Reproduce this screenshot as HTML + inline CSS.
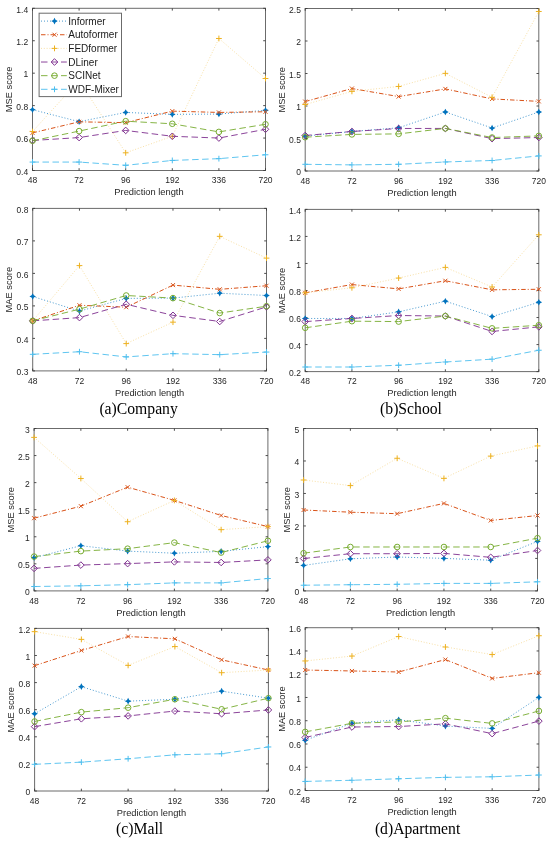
<!DOCTYPE html>
<html><head><meta charset="utf-8"><style>
html,body{margin:0;padding:0;background:#fff;}
svg{display:block;filter:blur(0.35px);}
.t{font-family:"Liberation Sans",sans-serif;font-size:8.5px;fill:#262626;}
.l{font-family:"Liberation Sans",sans-serif;font-size:9.3px;fill:#262626;}
.g{font-family:"Liberation Sans",sans-serif;font-size:10px;fill:#1a1a1a;}
.c{font-family:"Liberation Serif",serif;font-size:15.7px;fill:#000;}
</style></head><body>
<svg width="550" height="842" viewBox="0 0 550 842">
<rect width="550" height="842" fill="#fff"/>
<rect x="32.50" y="8.30" width="233.00" height="162.20" fill="none" stroke="#6b6b6b" stroke-width="1"/>
<path d="M32.50 170.50v-2.3M32.50 8.30v2.3M79.10 170.50v-2.3M79.10 8.30v2.3M125.70 170.50v-2.3M125.70 8.30v2.3M172.30 170.50v-2.3M172.30 8.30v2.3M218.90 170.50v-2.3M218.90 8.30v2.3M265.50 170.50v-2.3M265.50 8.30v2.3M32.50 170.50h2.3M265.50 170.50h-2.3M32.50 138.06h2.3M265.50 138.06h-2.3M32.50 105.62h2.3M265.50 105.62h-2.3M32.50 73.18h2.3M265.50 73.18h-2.3M32.50 40.74h2.3M265.50 40.74h-2.3M32.50 8.30h2.3M265.50 8.30h-2.3" stroke="#3a3a3a" stroke-width="0.9"/>
<polyline points="32.50,109.67 79.10,121.68 125.70,112.43 172.30,114.38 218.90,114.05 265.50,110.32" fill="none" stroke="#0072BD" stroke-width="0.9" stroke-opacity="0.8" stroke-dasharray="1 2"/>
<path fill="#0072BD" d="M29.20 109.67L31.35 108.52L32.50 106.38L33.65 108.52L35.80 109.67L33.65 110.83L32.50 112.97L31.35 110.83Z"/>
<path fill="#0072BD" d="M75.80 121.68L77.95 120.53L79.10 118.38L80.25 120.53L82.40 121.68L80.25 122.83L79.10 124.98L77.95 122.83Z"/>
<path fill="#0072BD" d="M122.40 112.43L124.55 111.28L125.70 109.13L126.85 111.28L129.00 112.43L126.85 113.58L125.70 115.73L124.55 113.58Z"/>
<path fill="#0072BD" d="M169.00 114.38L171.15 113.23L172.30 111.08L173.45 113.23L175.60 114.38L173.45 115.53L172.30 117.68L171.15 115.53Z"/>
<path fill="#0072BD" d="M215.60 114.05L217.75 112.90L218.90 110.75L220.05 112.90L222.20 114.05L220.05 115.20L218.90 117.35L217.75 115.20Z"/>
<path fill="#0072BD" d="M262.20 110.32L264.35 109.17L265.50 107.02L266.65 109.17L268.80 110.32L266.65 111.47L265.50 113.62L264.35 111.47Z"/>
<polyline points="32.50,132.87 79.10,121.84 125.70,122.65 172.30,111.13 218.90,112.43 265.50,111.78" fill="none" stroke="#D95319" stroke-width="1.0" stroke-opacity="1" stroke-dasharray="4.5 2 1 2"/>
<path stroke="#D95319" stroke-width="1" d="M30.50 130.87L34.50 134.87M30.50 134.87L34.50 130.87"/>
<path stroke="#D95319" stroke-width="1" d="M77.10 119.84L81.10 123.84M77.10 123.84L81.10 119.84"/>
<path stroke="#D95319" stroke-width="1" d="M123.70 120.65L127.70 124.65M123.70 124.65L127.70 120.65"/>
<path stroke="#D95319" stroke-width="1" d="M170.30 109.13L174.30 113.13M170.30 113.13L174.30 109.13"/>
<path stroke="#D95319" stroke-width="1" d="M216.90 110.43L220.90 114.43M216.90 114.43L220.90 110.43"/>
<path stroke="#D95319" stroke-width="1" d="M263.50 109.78L267.50 113.78M263.50 113.78L267.50 109.78"/>
<polyline points="32.50,131.57 79.10,80.48 125.70,152.82 172.30,136.28 218.90,38.47 265.50,78.53" fill="none" stroke="#EDB120" stroke-width="0.8" stroke-opacity="0.5" stroke-dasharray="1 1.8"/>
<path stroke="#EDB120" stroke-width="1" d="M29.60 131.57H35.40M32.50 128.67V134.47"/>
<path stroke="#EDB120" stroke-width="1" d="M76.20 80.48H82.00M79.10 77.58V83.38"/>
<path stroke="#EDB120" stroke-width="1" d="M122.80 152.82H128.60M125.70 149.92V155.72"/>
<path stroke="#EDB120" stroke-width="1" d="M169.40 136.28H175.20M172.30 133.38V139.18"/>
<path stroke="#EDB120" stroke-width="1" d="M216.00 38.47H221.80M218.90 35.57V41.37"/>
<path stroke="#EDB120" stroke-width="1" d="M262.60 78.53H268.40M265.50 75.63V81.43"/>
<polyline points="32.50,140.49 79.10,137.57 125.70,130.44 172.30,136.28 218.90,138.06 265.50,129.30" fill="none" stroke="#7E2F8E" stroke-width="0.9" stroke-opacity="1" stroke-dasharray="6.5 3.5"/>
<path stroke="#7E2F8E" stroke-width="1" fill="none" d="M32.50 137.19L35.80 140.49L32.50 143.79L29.20 140.49Z"/>
<path stroke="#7E2F8E" stroke-width="1" fill="none" d="M79.10 134.27L82.40 137.57L79.10 140.87L75.80 137.57Z"/>
<path stroke="#7E2F8E" stroke-width="1" fill="none" d="M125.70 127.14L129.00 130.44L125.70 133.74L122.40 130.44Z"/>
<path stroke="#7E2F8E" stroke-width="1" fill="none" d="M172.30 132.98L175.60 136.28L172.30 139.58L169.00 136.28Z"/>
<path stroke="#7E2F8E" stroke-width="1" fill="none" d="M218.90 134.76L222.20 138.06L218.90 141.36L215.60 138.06Z"/>
<path stroke="#7E2F8E" stroke-width="1" fill="none" d="M265.50 126.00L268.80 129.30L265.50 132.60L262.20 129.30Z"/>
<polyline points="32.50,140.82 79.10,131.09 125.70,121.19 172.30,123.79 218.90,131.90 265.50,124.27" fill="none" stroke="#77AC30" stroke-width="0.9" stroke-opacity="1" stroke-dasharray="6.5 3.5"/>
<circle cx="32.50" cy="140.82" r="2.8" stroke="#77AC30" stroke-width="1" fill="none"/>
<circle cx="79.10" cy="131.09" r="2.8" stroke="#77AC30" stroke-width="1" fill="none"/>
<circle cx="125.70" cy="121.19" r="2.8" stroke="#77AC30" stroke-width="1" fill="none"/>
<circle cx="172.30" cy="123.79" r="2.8" stroke="#77AC30" stroke-width="1" fill="none"/>
<circle cx="218.90" cy="131.90" r="2.8" stroke="#77AC30" stroke-width="1" fill="none"/>
<circle cx="265.50" cy="124.27" r="2.8" stroke="#77AC30" stroke-width="1" fill="none"/>
<polyline points="32.50,162.07 79.10,162.07 125.70,165.31 172.30,160.44 218.90,158.66 265.50,154.77" fill="none" stroke="#4DBEEE" stroke-width="0.9" stroke-opacity="1" stroke-dasharray="6.5 3.5"/>
<path stroke="#4DBEEE" stroke-width="1" d="M29.60 162.07H35.40M32.50 159.17V164.97"/>
<path stroke="#4DBEEE" stroke-width="1" d="M76.20 162.07H82.00M79.10 159.17V164.97"/>
<path stroke="#4DBEEE" stroke-width="1" d="M122.80 165.31H128.60M125.70 162.41V168.21"/>
<path stroke="#4DBEEE" stroke-width="1" d="M169.40 160.44H175.20M172.30 157.54V163.34"/>
<path stroke="#4DBEEE" stroke-width="1" d="M216.00 158.66H221.80M218.90 155.76V161.56"/>
<path stroke="#4DBEEE" stroke-width="1" d="M262.60 154.77H268.40M265.50 151.87V157.67"/>
<text x="28.20" y="174.70" text-anchor="end" class="t">0.4</text>
<text x="28.20" y="142.26" text-anchor="end" class="t">0.6</text>
<text x="28.20" y="109.82" text-anchor="end" class="t">0.8</text>
<text x="28.20" y="77.38" text-anchor="end" class="t">1</text>
<text x="28.20" y="44.94" text-anchor="end" class="t">1.2</text>
<text x="28.20" y="12.50" text-anchor="end" class="t">1.4</text>
<text x="32.50" y="183.10" text-anchor="middle" class="t">48</text>
<text x="79.10" y="183.10" text-anchor="middle" class="t">72</text>
<text x="125.70" y="183.10" text-anchor="middle" class="t">96</text>
<text x="172.30" y="183.10" text-anchor="middle" class="t">192</text>
<text x="218.90" y="183.10" text-anchor="middle" class="t">336</text>
<text x="265.50" y="183.10" text-anchor="middle" class="t">720</text>
<text x="149.00" y="195.30" text-anchor="middle" class="l">Prediction length</text>
<text transform="translate(12.20 89.40) rotate(-90)" text-anchor="middle" class="l">MSE score</text>
<rect x="305.20" y="8.50" width="233.60" height="162.50" fill="none" stroke="#6b6b6b" stroke-width="1"/>
<path d="M305.20 171.00v-2.3M305.20 8.50v2.3M351.92 171.00v-2.3M351.92 8.50v2.3M398.64 171.00v-2.3M398.64 8.50v2.3M445.36 171.00v-2.3M445.36 8.50v2.3M492.08 171.00v-2.3M492.08 8.50v2.3M538.80 171.00v-2.3M538.80 8.50v2.3M305.20 171.00h2.3M538.80 171.00h-2.3M305.20 138.50h2.3M538.80 138.50h-2.3M305.20 106.00h2.3M538.80 106.00h-2.3M305.20 73.50h2.3M538.80 73.50h-2.3M305.20 41.00h2.3M538.80 41.00h-2.3M305.20 8.50h2.3M538.80 8.50h-2.3" stroke="#3a3a3a" stroke-width="0.9"/>
<polyline points="305.20,136.09 351.92,131.48 398.64,127.78 445.36,111.98 492.08,128.03 538.80,111.98" fill="none" stroke="#0072BD" stroke-width="0.9" stroke-opacity="0.8" stroke-dasharray="1 2"/>
<path fill="#0072BD" d="M301.90 136.09L304.05 134.94L305.20 132.79L306.35 134.94L308.50 136.09L306.35 137.25L305.20 139.40L304.05 137.25Z"/>
<path fill="#0072BD" d="M348.62 131.48L350.77 130.33L351.92 128.18L353.07 130.33L355.22 131.48L353.07 132.63L351.92 134.78L350.77 132.63Z"/>
<path fill="#0072BD" d="M395.34 127.78L397.49 126.62L398.64 124.48L399.79 126.62L401.94 127.78L399.79 128.93L398.64 131.08L397.49 128.93Z"/>
<path fill="#0072BD" d="M442.06 111.98L444.21 110.83L445.36 108.68L446.51 110.83L448.66 111.98L446.51 113.13L445.36 115.28L444.21 113.13Z"/>
<path fill="#0072BD" d="M488.78 128.03L490.93 126.88L492.08 124.73L493.23 126.88L495.38 128.03L493.23 129.19L492.08 131.34L490.93 129.19Z"/>
<path fill="#0072BD" d="M535.50 111.98L537.65 110.83L538.80 108.68L539.95 110.83L542.10 111.98L539.95 113.13L538.80 115.28L537.65 113.13Z"/>
<polyline points="305.20,101.58 351.92,88.52 398.64,96.58 445.36,88.91 492.08,98.92 538.80,101.39" fill="none" stroke="#D95319" stroke-width="1.0" stroke-opacity="1" stroke-dasharray="4.5 2 1 2"/>
<path stroke="#D95319" stroke-width="1" d="M303.20 99.58L307.20 103.58M303.20 103.58L307.20 99.58"/>
<path stroke="#D95319" stroke-width="1" d="M349.92 86.52L353.92 90.52M349.92 90.52L353.92 86.52"/>
<path stroke="#D95319" stroke-width="1" d="M396.64 94.58L400.64 98.58M396.64 98.58L400.64 94.58"/>
<path stroke="#D95319" stroke-width="1" d="M443.36 86.91L447.36 90.91M443.36 90.91L447.36 86.91"/>
<path stroke="#D95319" stroke-width="1" d="M490.08 96.92L494.08 100.92M490.08 100.92L494.08 96.92"/>
<path stroke="#D95319" stroke-width="1" d="M536.80 99.39L540.80 103.39M536.80 103.39L540.80 99.39"/>
<polyline points="305.20,104.51 351.92,91.37 398.64,86.44 445.36,73.37 492.08,97.29 538.80,11.49" fill="none" stroke="#EDB120" stroke-width="0.8" stroke-opacity="0.5" stroke-dasharray="1 1.8"/>
<path stroke="#EDB120" stroke-width="1" d="M302.30 104.51H308.10M305.20 101.61V107.41"/>
<path stroke="#EDB120" stroke-width="1" d="M349.02 91.37H354.82M351.92 88.47V94.27"/>
<path stroke="#EDB120" stroke-width="1" d="M395.74 86.44H401.54M398.64 83.53V89.34"/>
<path stroke="#EDB120" stroke-width="1" d="M442.46 73.37H448.26M445.36 70.47V76.27"/>
<path stroke="#EDB120" stroke-width="1" d="M489.18 97.29H494.98M492.08 94.39V100.19"/>
<path stroke="#EDB120" stroke-width="1" d="M535.90 11.49H541.70M538.80 8.59V14.39"/>
<polyline points="305.20,135.51 351.92,131.48 398.64,128.49 445.36,128.43 492.08,138.63 538.80,137.53" fill="none" stroke="#7E2F8E" stroke-width="0.9" stroke-opacity="1" stroke-dasharray="6.5 3.5"/>
<path stroke="#7E2F8E" stroke-width="1" fill="none" d="M305.20 132.21L308.50 135.51L305.20 138.81L301.90 135.51Z"/>
<path stroke="#7E2F8E" stroke-width="1" fill="none" d="M351.92 128.18L355.22 131.48L351.92 134.78L348.62 131.48Z"/>
<path stroke="#7E2F8E" stroke-width="1" fill="none" d="M398.64 125.19L401.94 128.49L398.64 131.79L395.34 128.49Z"/>
<path stroke="#7E2F8E" stroke-width="1" fill="none" d="M445.36 125.13L448.66 128.43L445.36 131.73L442.06 128.43Z"/>
<path stroke="#7E2F8E" stroke-width="1" fill="none" d="M492.08 135.33L495.38 138.63L492.08 141.93L488.78 138.63Z"/>
<path stroke="#7E2F8E" stroke-width="1" fill="none" d="M538.80 134.22L542.10 137.53L538.80 140.83L535.50 137.53Z"/>
<polyline points="305.20,137.20 351.92,134.41 398.64,133.88 445.36,128.43 492.08,137.53 538.80,135.90" fill="none" stroke="#77AC30" stroke-width="0.9" stroke-opacity="1" stroke-dasharray="6.5 3.5"/>
<circle cx="305.20" cy="137.20" r="2.8" stroke="#77AC30" stroke-width="1" fill="none"/>
<circle cx="351.92" cy="134.41" r="2.8" stroke="#77AC30" stroke-width="1" fill="none"/>
<circle cx="398.64" cy="133.88" r="2.8" stroke="#77AC30" stroke-width="1" fill="none"/>
<circle cx="445.36" cy="128.43" r="2.8" stroke="#77AC30" stroke-width="1" fill="none"/>
<circle cx="492.08" cy="137.53" r="2.8" stroke="#77AC30" stroke-width="1" fill="none"/>
<circle cx="538.80" cy="135.90" r="2.8" stroke="#77AC30" stroke-width="1" fill="none"/>
<polyline points="305.20,164.31 351.92,164.89 398.64,164.31 445.36,161.97 492.08,160.47 538.80,155.92" fill="none" stroke="#4DBEEE" stroke-width="0.9" stroke-opacity="1" stroke-dasharray="6.5 3.5"/>
<path stroke="#4DBEEE" stroke-width="1" d="M302.30 164.31H308.10M305.20 161.41V167.21"/>
<path stroke="#4DBEEE" stroke-width="1" d="M349.02 164.89H354.82M351.92 161.99V167.79"/>
<path stroke="#4DBEEE" stroke-width="1" d="M395.74 164.31H401.54M398.64 161.41V167.21"/>
<path stroke="#4DBEEE" stroke-width="1" d="M442.46 161.97H448.26M445.36 159.06V164.87"/>
<path stroke="#4DBEEE" stroke-width="1" d="M489.18 160.47H494.98M492.08 157.57V163.37"/>
<path stroke="#4DBEEE" stroke-width="1" d="M535.90 155.92H541.70M538.80 153.02V158.82"/>
<text x="300.90" y="175.20" text-anchor="end" class="t">0</text>
<text x="300.90" y="142.70" text-anchor="end" class="t">0.5</text>
<text x="300.90" y="110.20" text-anchor="end" class="t">1</text>
<text x="300.90" y="77.70" text-anchor="end" class="t">1.5</text>
<text x="300.90" y="45.20" text-anchor="end" class="t">2</text>
<text x="300.90" y="12.70" text-anchor="end" class="t">2.5</text>
<text x="305.20" y="183.60" text-anchor="middle" class="t">48</text>
<text x="351.92" y="183.60" text-anchor="middle" class="t">72</text>
<text x="398.64" y="183.60" text-anchor="middle" class="t">96</text>
<text x="445.36" y="183.60" text-anchor="middle" class="t">192</text>
<text x="492.08" y="183.60" text-anchor="middle" class="t">336</text>
<text x="538.80" y="183.60" text-anchor="middle" class="t">720</text>
<text x="422.00" y="195.80" text-anchor="middle" class="l">Prediction length</text>
<text transform="translate(285.00 89.75) rotate(-90)" text-anchor="middle" class="l">MSE score</text>
<rect x="32.70" y="208.40" width="233.80" height="162.50" fill="none" stroke="#6b6b6b" stroke-width="1"/>
<path d="M32.70 370.90v-2.3M32.70 208.40v2.3M79.46 370.90v-2.3M79.46 208.40v2.3M126.22 370.90v-2.3M126.22 208.40v2.3M172.98 370.90v-2.3M172.98 208.40v2.3M219.74 370.90v-2.3M219.74 208.40v2.3M266.50 370.90v-2.3M266.50 208.40v2.3M32.70 370.90h2.3M266.50 370.90h-2.3M32.70 338.40h2.3M266.50 338.40h-2.3M32.70 305.90h2.3M266.50 305.90h-2.3M32.70 273.40h2.3M266.50 273.40h-2.3M32.70 240.90h2.3M266.50 240.90h-2.3M32.70 208.40h2.3M266.50 208.40h-2.3" stroke="#3a3a3a" stroke-width="0.9"/>
<polyline points="32.70,296.47 79.46,311.10 126.22,298.42 172.98,298.10 219.74,293.22 266.50,295.50" fill="none" stroke="#0072BD" stroke-width="0.9" stroke-opacity="0.8" stroke-dasharray="1 2"/>
<path fill="#0072BD" d="M29.40 296.47L31.55 295.32L32.70 293.17L33.85 295.32L36.00 296.47L33.85 297.62L32.70 299.77L31.55 297.62Z"/>
<path fill="#0072BD" d="M76.16 311.10L78.31 309.95L79.46 307.80L80.61 309.95L82.76 311.10L80.61 312.25L79.46 314.40L78.31 312.25Z"/>
<path fill="#0072BD" d="M122.92 298.42L125.07 297.27L126.22 295.12L127.37 297.27L129.52 298.42L127.37 299.57L126.22 301.72L125.07 299.57Z"/>
<path fill="#0072BD" d="M169.68 298.10L171.83 296.95L172.98 294.80L174.13 296.95L176.28 298.10L174.13 299.25L172.98 301.40L171.83 299.25Z"/>
<path fill="#0072BD" d="M216.44 293.22L218.59 292.07L219.74 289.92L220.89 292.07L223.04 293.22L220.89 294.37L219.74 296.52L218.59 294.37Z"/>
<path fill="#0072BD" d="M263.20 295.50L265.35 294.35L266.50 292.20L267.65 294.35L269.80 295.50L267.65 296.65L266.50 298.80L265.35 296.65Z"/>
<polyline points="32.70,320.85 79.46,305.25 126.22,307.20 172.98,285.10 219.74,289.32 266.50,285.75" fill="none" stroke="#D95319" stroke-width="1.0" stroke-opacity="1" stroke-dasharray="4.5 2 1 2"/>
<path stroke="#D95319" stroke-width="1" d="M30.70 318.85L34.70 322.85M30.70 322.85L34.70 318.85"/>
<path stroke="#D95319" stroke-width="1" d="M77.46 303.25L81.46 307.25M77.46 307.25L81.46 303.25"/>
<path stroke="#D95319" stroke-width="1" d="M124.22 305.20L128.22 309.20M124.22 309.20L128.22 305.20"/>
<path stroke="#D95319" stroke-width="1" d="M170.98 283.10L174.98 287.10M170.98 287.10L174.98 283.10"/>
<path stroke="#D95319" stroke-width="1" d="M217.74 287.32L221.74 291.32M217.74 291.32L221.74 287.32"/>
<path stroke="#D95319" stroke-width="1" d="M264.50 283.75L268.50 287.75M264.50 287.75L268.50 283.75"/>
<polyline points="32.70,320.85 79.46,265.60 126.22,343.60 172.98,322.15 219.74,236.35 266.50,258.12" fill="none" stroke="#EDB120" stroke-width="0.8" stroke-opacity="0.5" stroke-dasharray="1 1.8"/>
<path stroke="#EDB120" stroke-width="1" d="M29.80 320.85H35.60M32.70 317.95V323.75"/>
<path stroke="#EDB120" stroke-width="1" d="M76.56 265.60H82.36M79.46 262.70V268.50"/>
<path stroke="#EDB120" stroke-width="1" d="M123.32 343.60H129.12M126.22 340.70V346.50"/>
<path stroke="#EDB120" stroke-width="1" d="M170.08 322.15H175.88M172.98 319.25V325.05"/>
<path stroke="#EDB120" stroke-width="1" d="M216.84 236.35H222.64M219.74 233.45V239.25"/>
<path stroke="#EDB120" stroke-width="1" d="M263.60 258.12H269.40M266.50 255.22V261.02"/>
<polyline points="32.70,320.85 79.46,317.60 126.22,304.27 172.98,315.32 219.74,321.50 266.50,306.88" fill="none" stroke="#7E2F8E" stroke-width="0.9" stroke-opacity="1" stroke-dasharray="6.5 3.5"/>
<path stroke="#7E2F8E" stroke-width="1" fill="none" d="M32.70 317.55L36.00 320.85L32.70 324.15L29.40 320.85Z"/>
<path stroke="#7E2F8E" stroke-width="1" fill="none" d="M79.46 314.30L82.76 317.60L79.46 320.90L76.16 317.60Z"/>
<path stroke="#7E2F8E" stroke-width="1" fill="none" d="M126.22 300.97L129.52 304.27L126.22 307.57L122.92 304.27Z"/>
<path stroke="#7E2F8E" stroke-width="1" fill="none" d="M172.98 312.02L176.28 315.32L172.98 318.62L169.68 315.32Z"/>
<path stroke="#7E2F8E" stroke-width="1" fill="none" d="M219.74 318.20L223.04 321.50L219.74 324.80L216.44 321.50Z"/>
<path stroke="#7E2F8E" stroke-width="1" fill="none" d="M266.50 303.57L269.80 306.88L266.50 310.18L263.20 306.88Z"/>
<polyline points="32.70,320.85 79.46,309.15 126.22,295.50 172.98,298.10 219.74,313.05 266.50,306.22" fill="none" stroke="#77AC30" stroke-width="0.9" stroke-opacity="1" stroke-dasharray="6.5 3.5"/>
<circle cx="32.70" cy="320.85" r="2.8" stroke="#77AC30" stroke-width="1" fill="none"/>
<circle cx="79.46" cy="309.15" r="2.8" stroke="#77AC30" stroke-width="1" fill="none"/>
<circle cx="126.22" cy="295.50" r="2.8" stroke="#77AC30" stroke-width="1" fill="none"/>
<circle cx="172.98" cy="298.10" r="2.8" stroke="#77AC30" stroke-width="1" fill="none"/>
<circle cx="219.74" cy="313.05" r="2.8" stroke="#77AC30" stroke-width="1" fill="none"/>
<circle cx="266.50" cy="306.22" r="2.8" stroke="#77AC30" stroke-width="1" fill="none"/>
<polyline points="32.70,354.32 79.46,351.72 126.22,356.92 172.98,353.67 219.74,354.65 266.50,352.05" fill="none" stroke="#4DBEEE" stroke-width="0.9" stroke-opacity="1" stroke-dasharray="6.5 3.5"/>
<path stroke="#4DBEEE" stroke-width="1" d="M29.80 354.32H35.60M32.70 351.43V357.22"/>
<path stroke="#4DBEEE" stroke-width="1" d="M76.56 351.72H82.36M79.46 348.82V354.62"/>
<path stroke="#4DBEEE" stroke-width="1" d="M123.32 356.92H129.12M126.22 354.02V359.82"/>
<path stroke="#4DBEEE" stroke-width="1" d="M170.08 353.67H175.88M172.98 350.77V356.57"/>
<path stroke="#4DBEEE" stroke-width="1" d="M216.84 354.65H222.64M219.74 351.75V357.55"/>
<path stroke="#4DBEEE" stroke-width="1" d="M263.60 352.05H269.40M266.50 349.15V354.95"/>
<text x="28.40" y="375.10" text-anchor="end" class="t">0.3</text>
<text x="28.40" y="342.60" text-anchor="end" class="t">0.4</text>
<text x="28.40" y="310.10" text-anchor="end" class="t">0.5</text>
<text x="28.40" y="277.60" text-anchor="end" class="t">0.6</text>
<text x="28.40" y="245.10" text-anchor="end" class="t">0.7</text>
<text x="28.40" y="212.60" text-anchor="end" class="t">0.8</text>
<text x="32.70" y="383.50" text-anchor="middle" class="t">48</text>
<text x="79.46" y="383.50" text-anchor="middle" class="t">72</text>
<text x="126.22" y="383.50" text-anchor="middle" class="t">96</text>
<text x="172.98" y="383.50" text-anchor="middle" class="t">192</text>
<text x="219.74" y="383.50" text-anchor="middle" class="t">336</text>
<text x="266.50" y="383.50" text-anchor="middle" class="t">720</text>
<text x="149.60" y="395.70" text-anchor="middle" class="l">Prediction length</text>
<text transform="translate(12.40 289.65) rotate(-90)" text-anchor="middle" class="l">MAE score</text>
<rect x="305.20" y="209.40" width="233.60" height="162.20" fill="none" stroke="#6b6b6b" stroke-width="1"/>
<path d="M305.20 371.60v-2.3M305.20 209.40v2.3M351.92 371.60v-2.3M351.92 209.40v2.3M398.64 371.60v-2.3M398.64 209.40v2.3M445.36 371.60v-2.3M445.36 209.40v2.3M492.08 371.60v-2.3M492.08 209.40v2.3M538.80 371.60v-2.3M538.80 209.40v2.3M305.20 371.60h2.3M538.80 371.60h-2.3M305.20 344.57h2.3M538.80 344.57h-2.3M305.20 317.53h2.3M538.80 317.53h-2.3M305.20 290.50h2.3M538.80 290.50h-2.3M305.20 263.47h2.3M538.80 263.47h-2.3M305.20 236.43h2.3M538.80 236.43h-2.3M305.20 209.40h2.3M538.80 209.40h-2.3" stroke="#3a3a3a" stroke-width="0.9"/>
<polyline points="305.20,318.48 351.92,318.48 398.64,311.86 445.36,301.18 492.08,316.59 538.80,302.26" fill="none" stroke="#0072BD" stroke-width="0.9" stroke-opacity="0.8" stroke-dasharray="1 2"/>
<path fill="#0072BD" d="M301.90 318.48L304.05 317.33L305.20 315.18L306.35 317.33L308.50 318.48L306.35 319.63L305.20 321.78L304.05 319.63Z"/>
<path fill="#0072BD" d="M348.62 318.48L350.77 317.33L351.92 315.18L353.07 317.33L355.22 318.48L353.07 319.63L351.92 321.78L350.77 319.63Z"/>
<path fill="#0072BD" d="M395.34 311.86L397.49 310.71L398.64 308.56L399.79 310.71L401.94 311.86L399.79 313.01L398.64 315.16L397.49 313.01Z"/>
<path fill="#0072BD" d="M442.06 301.18L444.21 300.03L445.36 297.88L446.51 300.03L448.66 301.18L446.51 302.33L445.36 304.48L444.21 302.33Z"/>
<path fill="#0072BD" d="M488.78 316.59L490.93 315.44L492.08 313.29L493.23 315.44L495.38 316.59L493.23 317.74L492.08 319.89L490.93 317.74Z"/>
<path fill="#0072BD" d="M535.50 302.26L537.65 301.11L538.80 298.96L539.95 301.11L542.10 302.26L539.95 303.41L538.80 305.56L537.65 303.41Z"/>
<polyline points="305.20,292.80 351.92,284.55 398.64,288.88 445.36,280.77 492.08,289.82 538.80,289.28" fill="none" stroke="#D95319" stroke-width="1.0" stroke-opacity="1" stroke-dasharray="4.5 2 1 2"/>
<path stroke="#D95319" stroke-width="1" d="M303.20 290.80L307.20 294.80M303.20 294.80L307.20 290.80"/>
<path stroke="#D95319" stroke-width="1" d="M349.92 282.55L353.92 286.55M349.92 286.55L353.92 282.55"/>
<path stroke="#D95319" stroke-width="1" d="M396.64 286.88L400.64 290.88M396.64 290.88L400.64 286.88"/>
<path stroke="#D95319" stroke-width="1" d="M443.36 278.77L447.36 282.77M443.36 282.77L447.36 278.77"/>
<path stroke="#D95319" stroke-width="1" d="M490.08 287.82L494.08 291.82M490.08 291.82L494.08 287.82"/>
<path stroke="#D95319" stroke-width="1" d="M536.80 287.28L540.80 291.28M536.80 291.28L540.80 287.28"/>
<polyline points="305.20,292.80 351.92,287.80 398.64,278.06 445.36,267.39 492.08,286.99 538.80,234.81" fill="none" stroke="#EDB120" stroke-width="0.8" stroke-opacity="0.5" stroke-dasharray="1 1.8"/>
<path stroke="#EDB120" stroke-width="1" d="M302.30 292.80H308.10M305.20 289.90V295.70"/>
<path stroke="#EDB120" stroke-width="1" d="M349.02 287.80H354.82M351.92 284.90V290.70"/>
<path stroke="#EDB120" stroke-width="1" d="M395.74 278.06H401.54M398.64 275.16V280.96"/>
<path stroke="#EDB120" stroke-width="1" d="M442.46 267.39H448.26M445.36 264.49V270.29"/>
<path stroke="#EDB120" stroke-width="1" d="M489.18 286.99H494.98M492.08 284.09V289.89"/>
<path stroke="#EDB120" stroke-width="1" d="M535.90 234.81H541.70M538.80 231.91V237.71"/>
<polyline points="305.20,321.59 351.92,318.48 398.64,315.51 445.36,316.05 492.08,331.46 538.80,326.86" fill="none" stroke="#7E2F8E" stroke-width="0.9" stroke-opacity="1" stroke-dasharray="6.5 3.5"/>
<path stroke="#7E2F8E" stroke-width="1" fill="none" d="M305.20 318.29L308.50 321.59L305.20 324.89L301.90 321.59Z"/>
<path stroke="#7E2F8E" stroke-width="1" fill="none" d="M351.92 315.18L355.22 318.48L351.92 321.78L348.62 318.48Z"/>
<path stroke="#7E2F8E" stroke-width="1" fill="none" d="M398.64 312.21L401.94 315.51L398.64 318.81L395.34 315.51Z"/>
<path stroke="#7E2F8E" stroke-width="1" fill="none" d="M445.36 312.75L448.66 316.05L445.36 319.35L442.06 316.05Z"/>
<path stroke="#7E2F8E" stroke-width="1" fill="none" d="M492.08 328.16L495.38 331.46L492.08 334.76L488.78 331.46Z"/>
<path stroke="#7E2F8E" stroke-width="1" fill="none" d="M538.80 323.56L542.10 326.86L538.80 330.16L535.50 326.86Z"/>
<polyline points="305.20,327.81 351.92,321.18 398.64,321.59 445.36,316.05 492.08,328.35 538.80,325.24" fill="none" stroke="#77AC30" stroke-width="0.9" stroke-opacity="1" stroke-dasharray="6.5 3.5"/>
<circle cx="305.20" cy="327.81" r="2.8" stroke="#77AC30" stroke-width="1" fill="none"/>
<circle cx="351.92" cy="321.18" r="2.8" stroke="#77AC30" stroke-width="1" fill="none"/>
<circle cx="398.64" cy="321.59" r="2.8" stroke="#77AC30" stroke-width="1" fill="none"/>
<circle cx="445.36" cy="316.05" r="2.8" stroke="#77AC30" stroke-width="1" fill="none"/>
<circle cx="492.08" cy="328.35" r="2.8" stroke="#77AC30" stroke-width="1" fill="none"/>
<circle cx="538.80" cy="325.24" r="2.8" stroke="#77AC30" stroke-width="1" fill="none"/>
<polyline points="305.20,367.00 351.92,367.00 398.64,365.25 445.36,362.00 492.08,359.16 538.80,350.24" fill="none" stroke="#4DBEEE" stroke-width="0.9" stroke-opacity="1" stroke-dasharray="6.5 3.5"/>
<path stroke="#4DBEEE" stroke-width="1" d="M302.30 367.00H308.10M305.20 364.10V369.90"/>
<path stroke="#4DBEEE" stroke-width="1" d="M349.02 367.00H354.82M351.92 364.10V369.90"/>
<path stroke="#4DBEEE" stroke-width="1" d="M395.74 365.25H401.54M398.64 362.35V368.15"/>
<path stroke="#4DBEEE" stroke-width="1" d="M442.46 362.00H448.26M445.36 359.10V364.90"/>
<path stroke="#4DBEEE" stroke-width="1" d="M489.18 359.16H494.98M492.08 356.26V362.06"/>
<path stroke="#4DBEEE" stroke-width="1" d="M535.90 350.24H541.70M538.80 347.34V353.14"/>
<text x="300.90" y="375.80" text-anchor="end" class="t">0.2</text>
<text x="300.90" y="348.77" text-anchor="end" class="t">0.4</text>
<text x="300.90" y="321.73" text-anchor="end" class="t">0.6</text>
<text x="300.90" y="294.70" text-anchor="end" class="t">0.8</text>
<text x="300.90" y="267.67" text-anchor="end" class="t">1</text>
<text x="300.90" y="240.63" text-anchor="end" class="t">1.2</text>
<text x="300.90" y="213.60" text-anchor="end" class="t">1.4</text>
<text x="305.20" y="384.20" text-anchor="middle" class="t">48</text>
<text x="351.92" y="384.20" text-anchor="middle" class="t">72</text>
<text x="398.64" y="384.20" text-anchor="middle" class="t">96</text>
<text x="445.36" y="384.20" text-anchor="middle" class="t">192</text>
<text x="492.08" y="384.20" text-anchor="middle" class="t">336</text>
<text x="538.80" y="384.20" text-anchor="middle" class="t">720</text>
<text x="422.00" y="396.40" text-anchor="middle" class="l">Prediction length</text>
<text transform="translate(284.70 290.50) rotate(-90)" text-anchor="middle" class="l">MAE score</text>
<rect x="34.10" y="428.50" width="233.80" height="162.40" fill="none" stroke="#6b6b6b" stroke-width="1"/>
<path d="M34.10 590.90v-2.3M34.10 428.50v2.3M80.86 590.90v-2.3M80.86 428.50v2.3M127.62 590.90v-2.3M127.62 428.50v2.3M174.38 590.90v-2.3M174.38 428.50v2.3M221.14 590.90v-2.3M221.14 428.50v2.3M267.90 590.90v-2.3M267.90 428.50v2.3M34.10 590.90h2.3M267.90 590.90h-2.3M34.10 563.83h2.3M267.90 563.83h-2.3M34.10 536.77h2.3M267.90 536.77h-2.3M34.10 509.70h2.3M267.90 509.70h-2.3M34.10 482.63h2.3M267.90 482.63h-2.3M34.10 455.57h2.3M267.90 455.57h-2.3M34.10 428.50h2.3M267.90 428.50h-2.3" stroke="#3a3a3a" stroke-width="0.9"/>
<polyline points="34.10,557.72 80.86,545.70 127.62,551.11 174.38,553.22 221.14,551.38 267.90,546.62" fill="none" stroke="#0072BD" stroke-width="0.9" stroke-opacity="0.8" stroke-dasharray="1 2"/>
<path fill="#0072BD" d="M30.80 557.72L32.95 556.57L34.10 554.42L35.25 556.57L37.40 557.72L35.25 558.87L34.10 561.02L32.95 558.87Z"/>
<path fill="#0072BD" d="M77.56 545.70L79.71 544.55L80.86 542.40L82.01 544.55L84.16 545.70L82.01 546.85L80.86 549.00L79.71 546.85Z"/>
<path fill="#0072BD" d="M124.32 551.11L126.47 549.96L127.62 547.81L128.77 549.96L130.92 551.11L128.77 552.26L127.62 554.41L126.47 552.26Z"/>
<path fill="#0072BD" d="M171.08 553.22L173.23 552.07L174.38 549.92L175.53 552.07L177.68 553.22L175.53 554.37L174.38 556.52L173.23 554.37Z"/>
<path fill="#0072BD" d="M217.84 551.38L219.99 550.23L221.14 548.08L222.29 550.23L224.44 551.38L222.29 552.53L221.14 554.68L219.99 552.53Z"/>
<path fill="#0072BD" d="M264.60 546.62L266.75 545.47L267.90 543.32L269.05 545.47L271.20 546.62L269.05 547.77L267.90 549.92L266.75 547.77Z"/>
<polyline points="34.10,518.20 80.86,506.18 127.62,487.18 174.38,500.39 221.14,515.49 267.90,526.59" fill="none" stroke="#D95319" stroke-width="1.0" stroke-opacity="1" stroke-dasharray="4.5 2 1 2"/>
<path stroke="#D95319" stroke-width="1" d="M32.10 516.20L36.10 520.20M32.10 520.20L36.10 516.20"/>
<path stroke="#D95319" stroke-width="1" d="M78.86 504.18L82.86 508.18M78.86 508.18L82.86 504.18"/>
<path stroke="#D95319" stroke-width="1" d="M125.62 485.18L129.62 489.18M125.62 489.18L129.62 485.18"/>
<path stroke="#D95319" stroke-width="1" d="M172.38 498.39L176.38 502.39M172.38 502.39L176.38 498.39"/>
<path stroke="#D95319" stroke-width="1" d="M219.14 513.49L223.14 517.49M219.14 517.49L223.14 513.49"/>
<path stroke="#D95319" stroke-width="1" d="M265.90 524.59L269.90 528.59M265.90 528.59L269.90 524.59"/>
<polyline points="34.10,437.38 80.86,478.47 127.62,521.72 174.38,500.39 221.14,529.68 267.90,526.59" fill="none" stroke="#EDB120" stroke-width="0.8" stroke-opacity="0.5" stroke-dasharray="1 1.8"/>
<path stroke="#EDB120" stroke-width="1" d="M31.20 437.38H37.00M34.10 434.48V440.28"/>
<path stroke="#EDB120" stroke-width="1" d="M77.96 478.47H83.76M80.86 475.57V481.37"/>
<path stroke="#EDB120" stroke-width="1" d="M124.72 521.72H130.52M127.62 518.82V524.62"/>
<path stroke="#EDB120" stroke-width="1" d="M171.48 500.39H177.28M174.38 497.49V503.29"/>
<path stroke="#EDB120" stroke-width="1" d="M218.24 529.68H224.04M221.14 526.78V532.58"/>
<path stroke="#EDB120" stroke-width="1" d="M265.00 526.59H270.80M267.90 523.69V529.49"/>
<polyline points="34.10,568.38 80.86,565.08 127.62,563.62 174.38,561.88 221.14,562.48 267.90,559.88" fill="none" stroke="#7E2F8E" stroke-width="0.9" stroke-opacity="1" stroke-dasharray="6.5 3.5"/>
<path stroke="#7E2F8E" stroke-width="1" fill="none" d="M34.10 565.08L37.40 568.38L34.10 571.68L30.80 568.38Z"/>
<path stroke="#7E2F8E" stroke-width="1" fill="none" d="M80.86 561.78L84.16 565.08L80.86 568.38L77.56 565.08Z"/>
<path stroke="#7E2F8E" stroke-width="1" fill="none" d="M127.62 560.32L130.92 563.62L127.62 566.92L124.32 563.62Z"/>
<path stroke="#7E2F8E" stroke-width="1" fill="none" d="M174.38 558.58L177.68 561.88L174.38 565.18L171.08 561.88Z"/>
<path stroke="#7E2F8E" stroke-width="1" fill="none" d="M221.14 559.18L224.44 562.48L221.14 565.78L217.84 562.48Z"/>
<path stroke="#7E2F8E" stroke-width="1" fill="none" d="M267.90 556.58L271.20 559.88L267.90 563.18L264.60 559.88Z"/>
<polyline points="34.10,556.58 80.86,551.11 127.62,548.68 174.38,542.61 221.14,552.57 267.90,540.77" fill="none" stroke="#77AC30" stroke-width="0.9" stroke-opacity="1" stroke-dasharray="6.5 3.5"/>
<circle cx="34.10" cy="556.58" r="2.8" stroke="#77AC30" stroke-width="1" fill="none"/>
<circle cx="80.86" cy="551.11" r="2.8" stroke="#77AC30" stroke-width="1" fill="none"/>
<circle cx="127.62" cy="548.68" r="2.8" stroke="#77AC30" stroke-width="1" fill="none"/>
<circle cx="174.38" cy="542.61" r="2.8" stroke="#77AC30" stroke-width="1" fill="none"/>
<circle cx="221.14" cy="552.57" r="2.8" stroke="#77AC30" stroke-width="1" fill="none"/>
<circle cx="267.90" cy="540.77" r="2.8" stroke="#77AC30" stroke-width="1" fill="none"/>
<polyline points="34.10,586.52 80.86,585.81 127.62,584.67 174.38,582.89 221.14,582.89 267.90,578.50" fill="none" stroke="#4DBEEE" stroke-width="0.9" stroke-opacity="1" stroke-dasharray="6.5 3.5"/>
<path stroke="#4DBEEE" stroke-width="1" d="M31.20 586.52H37.00M34.10 583.62V589.42"/>
<path stroke="#4DBEEE" stroke-width="1" d="M77.96 585.81H83.76M80.86 582.91V588.71"/>
<path stroke="#4DBEEE" stroke-width="1" d="M124.72 584.67H130.52M127.62 581.77V587.57"/>
<path stroke="#4DBEEE" stroke-width="1" d="M171.48 582.89H177.28M174.38 579.99V585.79"/>
<path stroke="#4DBEEE" stroke-width="1" d="M218.24 582.89H224.04M221.14 579.99V585.79"/>
<path stroke="#4DBEEE" stroke-width="1" d="M265.00 578.50H270.80M267.90 575.60V581.40"/>
<text x="29.80" y="595.10" text-anchor="end" class="t">0</text>
<text x="29.80" y="568.03" text-anchor="end" class="t">0.5</text>
<text x="29.80" y="540.97" text-anchor="end" class="t">1</text>
<text x="29.80" y="513.90" text-anchor="end" class="t">1.5</text>
<text x="29.80" y="486.83" text-anchor="end" class="t">2</text>
<text x="29.80" y="459.77" text-anchor="end" class="t">2.5</text>
<text x="29.80" y="432.70" text-anchor="end" class="t">3</text>
<text x="34.10" y="603.50" text-anchor="middle" class="t">48</text>
<text x="80.86" y="603.50" text-anchor="middle" class="t">72</text>
<text x="127.62" y="603.50" text-anchor="middle" class="t">96</text>
<text x="174.38" y="603.50" text-anchor="middle" class="t">192</text>
<text x="221.14" y="603.50" text-anchor="middle" class="t">336</text>
<text x="267.90" y="603.50" text-anchor="middle" class="t">720</text>
<text x="151.00" y="615.70" text-anchor="middle" class="l">Prediction length</text>
<text transform="translate(14.40 509.70) rotate(-90)" text-anchor="middle" class="l">MSE score</text>
<rect x="303.60" y="428.50" width="233.90" height="162.40" fill="none" stroke="#6b6b6b" stroke-width="1"/>
<path d="M303.60 590.90v-2.3M303.60 428.50v2.3M350.38 590.90v-2.3M350.38 428.50v2.3M397.16 590.90v-2.3M397.16 428.50v2.3M443.94 590.90v-2.3M443.94 428.50v2.3M490.72 590.90v-2.3M490.72 428.50v2.3M537.50 590.90v-2.3M537.50 428.50v2.3M303.60 590.90h2.3M537.50 590.90h-2.3M303.60 558.42h2.3M537.50 558.42h-2.3M303.60 525.94h2.3M537.50 525.94h-2.3M303.60 493.46h2.3M537.50 493.46h-2.3M303.60 460.98h2.3M537.50 460.98h-2.3M303.60 428.50h2.3M537.50 428.50h-2.3" stroke="#3a3a3a" stroke-width="0.9"/>
<polyline points="303.60,565.40 350.38,558.81 397.16,556.99 443.94,558.39 490.72,560.21 537.50,541.40" fill="none" stroke="#0072BD" stroke-width="0.9" stroke-opacity="0.8" stroke-dasharray="1 2"/>
<path fill="#0072BD" d="M300.30 565.40L302.45 564.25L303.60 562.10L304.75 564.25L306.90 565.40L304.75 566.55L303.60 568.70L302.45 566.55Z"/>
<path fill="#0072BD" d="M347.08 558.81L349.23 557.66L350.38 555.51L351.53 557.66L353.68 558.81L351.53 559.96L350.38 562.11L349.23 559.96Z"/>
<path fill="#0072BD" d="M393.86 556.99L396.01 555.84L397.16 553.69L398.31 555.84L400.46 556.99L398.31 558.14L397.16 560.29L396.01 558.14Z"/>
<path fill="#0072BD" d="M440.64 558.39L442.79 557.24L443.94 555.09L445.09 557.24L447.24 558.39L445.09 559.54L443.94 561.69L442.79 559.54Z"/>
<path fill="#0072BD" d="M487.42 560.21L489.57 559.06L490.72 556.91L491.87 559.06L494.02 560.21L491.87 561.36L490.72 563.51L489.57 561.36Z"/>
<path fill="#0072BD" d="M534.20 541.40L536.35 540.25L537.50 538.10L538.65 540.25L540.80 541.40L538.65 542.55L537.50 544.70L536.35 542.55Z"/>
<polyline points="303.60,509.99 350.38,512.20 397.16,513.70 443.94,503.40 490.72,520.48 537.50,515.51" fill="none" stroke="#D95319" stroke-width="1.0" stroke-opacity="1" stroke-dasharray="4.5 2 1 2"/>
<path stroke="#D95319" stroke-width="1" d="M301.60 507.99L305.60 511.99M301.60 511.99L305.60 507.99"/>
<path stroke="#D95319" stroke-width="1" d="M348.38 510.20L352.38 514.20M348.38 514.20L352.38 510.20"/>
<path stroke="#D95319" stroke-width="1" d="M395.16 511.70L399.16 515.70M395.16 515.70L399.16 511.70"/>
<path stroke="#D95319" stroke-width="1" d="M441.94 501.40L445.94 505.40M441.94 505.40L445.94 501.40"/>
<path stroke="#D95319" stroke-width="1" d="M488.72 518.48L492.72 522.48M488.72 522.48L492.72 518.48"/>
<path stroke="#D95319" stroke-width="1" d="M535.50 513.51L539.50 517.51M535.50 517.51L539.50 513.51"/>
<polyline points="303.60,480.01 350.38,485.60 397.16,458.28 443.94,478.39 490.72,456.11 537.50,445.91" fill="none" stroke="#EDB120" stroke-width="0.8" stroke-opacity="0.5" stroke-dasharray="1 1.8"/>
<path stroke="#EDB120" stroke-width="1" d="M300.70 480.01H306.50M303.60 477.11V482.91"/>
<path stroke="#EDB120" stroke-width="1" d="M347.48 485.60H353.28M350.38 482.70V488.50"/>
<path stroke="#EDB120" stroke-width="1" d="M394.26 458.28H400.06M397.16 455.38V461.18"/>
<path stroke="#EDB120" stroke-width="1" d="M441.04 478.39H446.84M443.94 475.49V481.29"/>
<path stroke="#EDB120" stroke-width="1" d="M487.82 456.11H493.62M490.72 453.21V459.01"/>
<path stroke="#EDB120" stroke-width="1" d="M534.60 445.91H540.40M537.50 443.01V448.81"/>
<polyline points="303.60,558.52 350.38,553.71 397.16,553.71 443.94,553.39 490.72,557.32 537.50,550.49" fill="none" stroke="#7E2F8E" stroke-width="0.9" stroke-opacity="1" stroke-dasharray="6.5 3.5"/>
<path stroke="#7E2F8E" stroke-width="1" fill="none" d="M303.60 555.22L306.90 558.52L303.60 561.82L300.30 558.52Z"/>
<path stroke="#7E2F8E" stroke-width="1" fill="none" d="M350.38 550.41L353.68 553.71L350.38 557.01L347.08 553.71Z"/>
<path stroke="#7E2F8E" stroke-width="1" fill="none" d="M397.16 550.41L400.46 553.71L397.16 557.01L393.86 553.71Z"/>
<path stroke="#7E2F8E" stroke-width="1" fill="none" d="M443.94 550.09L447.24 553.39L443.94 556.69L440.64 553.39Z"/>
<path stroke="#7E2F8E" stroke-width="1" fill="none" d="M490.72 554.02L494.02 557.32L490.72 560.62L487.42 557.32Z"/>
<path stroke="#7E2F8E" stroke-width="1" fill="none" d="M537.50 547.19L540.80 550.49L537.50 553.79L534.20 550.49Z"/>
<polyline points="303.60,553.19 350.38,546.99 397.16,546.99 443.94,546.99 490.72,546.99 537.50,538.18" fill="none" stroke="#77AC30" stroke-width="0.9" stroke-opacity="1" stroke-dasharray="6.5 3.5"/>
<circle cx="303.60" cy="553.19" r="2.8" stroke="#77AC30" stroke-width="1" fill="none"/>
<circle cx="350.38" cy="546.99" r="2.8" stroke="#77AC30" stroke-width="1" fill="none"/>
<circle cx="397.16" cy="546.99" r="2.8" stroke="#77AC30" stroke-width="1" fill="none"/>
<circle cx="443.94" cy="546.99" r="2.8" stroke="#77AC30" stroke-width="1" fill="none"/>
<circle cx="490.72" cy="546.99" r="2.8" stroke="#77AC30" stroke-width="1" fill="none"/>
<circle cx="537.50" cy="538.18" r="2.8" stroke="#77AC30" stroke-width="1" fill="none"/>
<polyline points="303.60,585.22 350.38,584.73 397.16,584.31 443.94,583.40 490.72,583.40 537.50,581.81" fill="none" stroke="#4DBEEE" stroke-width="0.9" stroke-opacity="1" stroke-dasharray="6.5 3.5"/>
<path stroke="#4DBEEE" stroke-width="1" d="M300.70 585.22H306.50M303.60 582.32V588.12"/>
<path stroke="#4DBEEE" stroke-width="1" d="M347.48 584.73H353.28M350.38 581.83V587.63"/>
<path stroke="#4DBEEE" stroke-width="1" d="M394.26 584.31H400.06M397.16 581.41V587.21"/>
<path stroke="#4DBEEE" stroke-width="1" d="M441.04 583.40H446.84M443.94 580.50V586.30"/>
<path stroke="#4DBEEE" stroke-width="1" d="M487.82 583.40H493.62M490.72 580.50V586.30"/>
<path stroke="#4DBEEE" stroke-width="1" d="M534.60 581.81H540.40M537.50 578.91V584.71"/>
<text x="299.30" y="595.10" text-anchor="end" class="t">0</text>
<text x="299.30" y="562.62" text-anchor="end" class="t">1</text>
<text x="299.30" y="530.14" text-anchor="end" class="t">2</text>
<text x="299.30" y="497.66" text-anchor="end" class="t">3</text>
<text x="299.30" y="465.18" text-anchor="end" class="t">4</text>
<text x="299.30" y="432.70" text-anchor="end" class="t">5</text>
<text x="303.60" y="603.50" text-anchor="middle" class="t">48</text>
<text x="350.38" y="603.50" text-anchor="middle" class="t">72</text>
<text x="397.16" y="603.50" text-anchor="middle" class="t">96</text>
<text x="443.94" y="603.50" text-anchor="middle" class="t">192</text>
<text x="490.72" y="603.50" text-anchor="middle" class="t">336</text>
<text x="537.50" y="603.50" text-anchor="middle" class="t">720</text>
<text x="420.55" y="615.70" text-anchor="middle" class="l">Prediction length</text>
<text transform="translate(290.40 509.70) rotate(-90)" text-anchor="middle" class="l">MSE score</text>
<rect x="34.60" y="628.40" width="233.80" height="162.60" fill="none" stroke="#6b6b6b" stroke-width="1"/>
<path d="M34.60 791.00v-2.3M34.60 628.40v2.3M81.36 791.00v-2.3M81.36 628.40v2.3M128.12 791.00v-2.3M128.12 628.40v2.3M174.88 791.00v-2.3M174.88 628.40v2.3M221.64 791.00v-2.3M221.64 628.40v2.3M268.40 791.00v-2.3M268.40 628.40v2.3M34.60 791.00h2.3M268.40 791.00h-2.3M34.60 763.90h2.3M268.40 763.90h-2.3M34.60 736.80h2.3M268.40 736.80h-2.3M34.60 709.70h2.3M268.40 709.70h-2.3M34.60 682.60h2.3M268.40 682.60h-2.3M34.60 655.50h2.3M268.40 655.50h-2.3M34.60 628.40h2.3M268.40 628.40h-2.3" stroke="#3a3a3a" stroke-width="0.9"/>
<polyline points="34.60,713.76 81.36,686.66 128.12,701.16 174.88,699.27 221.64,691.14 268.40,698.18" fill="none" stroke="#0072BD" stroke-width="0.9" stroke-opacity="0.8" stroke-dasharray="1 2"/>
<path fill="#0072BD" d="M31.30 713.76L33.45 712.62L34.60 710.47L35.75 712.62L37.90 713.76L35.75 714.91L34.60 717.06L33.45 714.91Z"/>
<path fill="#0072BD" d="M78.06 686.66L80.21 685.51L81.36 683.37L82.51 685.51L84.66 686.66L82.51 687.81L81.36 689.96L80.21 687.81Z"/>
<path fill="#0072BD" d="M124.82 701.16L126.97 700.01L128.12 697.86L129.27 700.01L131.42 701.16L129.27 702.31L128.12 704.46L126.97 702.31Z"/>
<path fill="#0072BD" d="M171.58 699.27L173.73 698.12L174.88 695.97L176.03 698.12L178.18 699.27L176.03 700.42L174.88 702.57L173.73 700.42Z"/>
<path fill="#0072BD" d="M218.34 691.14L220.49 689.99L221.64 687.84L222.79 689.99L224.94 691.14L222.79 692.29L221.64 694.44L220.49 692.29Z"/>
<path fill="#0072BD" d="M265.10 698.18L267.25 697.03L268.40 694.88L269.55 697.03L271.70 698.18L269.55 699.33L268.40 701.48L267.25 699.33Z"/>
<polyline points="34.60,665.66 81.36,650.49 128.12,636.53 174.88,638.83 221.64,659.84 268.40,670.00" fill="none" stroke="#D95319" stroke-width="1.0" stroke-opacity="1" stroke-dasharray="4.5 2 1 2"/>
<path stroke="#D95319" stroke-width="1" d="M32.60 663.66L36.60 667.66M32.60 667.66L36.60 663.66"/>
<path stroke="#D95319" stroke-width="1" d="M79.36 648.49L83.36 652.49M79.36 652.49L83.36 648.49"/>
<path stroke="#D95319" stroke-width="1" d="M126.12 634.53L130.12 638.53M126.12 638.53L130.12 634.53"/>
<path stroke="#D95319" stroke-width="1" d="M172.88 636.83L176.88 640.83M172.88 640.83L176.88 636.83"/>
<path stroke="#D95319" stroke-width="1" d="M219.64 657.84L223.64 661.84M219.64 661.84L223.64 657.84"/>
<path stroke="#D95319" stroke-width="1" d="M266.40 668.00L270.40 672.00M266.40 672.00L270.40 668.00"/>
<polyline points="34.60,631.65 81.36,639.38 128.12,665.39 174.88,646.56 221.64,672.71 268.40,670.00" fill="none" stroke="#EDB120" stroke-width="0.8" stroke-opacity="0.5" stroke-dasharray="1 1.8"/>
<path stroke="#EDB120" stroke-width="1" d="M31.70 631.65H37.50M34.60 628.75V634.55"/>
<path stroke="#EDB120" stroke-width="1" d="M78.46 639.38H84.26M81.36 636.48V642.28"/>
<path stroke="#EDB120" stroke-width="1" d="M125.22 665.39H131.02M128.12 662.49V668.29"/>
<path stroke="#EDB120" stroke-width="1" d="M171.98 646.56H177.78M174.88 643.66V649.46"/>
<path stroke="#EDB120" stroke-width="1" d="M218.74 672.71H224.54M221.64 669.81V675.61"/>
<path stroke="#EDB120" stroke-width="1" d="M265.50 670.00H271.30M268.40 667.10V672.90"/>
<polyline points="34.60,726.64 81.36,718.78 128.12,715.93 174.88,711.05 221.64,713.76 268.40,709.97" fill="none" stroke="#7E2F8E" stroke-width="0.9" stroke-opacity="1" stroke-dasharray="6.5 3.5"/>
<path stroke="#7E2F8E" stroke-width="1" fill="none" d="M34.60 723.34L37.90 726.64L34.60 729.94L31.30 726.64Z"/>
<path stroke="#7E2F8E" stroke-width="1" fill="none" d="M81.36 715.48L84.66 718.78L81.36 722.08L78.06 718.78Z"/>
<path stroke="#7E2F8E" stroke-width="1" fill="none" d="M128.12 712.63L131.42 715.93L128.12 719.23L124.82 715.93Z"/>
<path stroke="#7E2F8E" stroke-width="1" fill="none" d="M174.88 707.75L178.18 711.05L174.88 714.35L171.58 711.05Z"/>
<path stroke="#7E2F8E" stroke-width="1" fill="none" d="M221.64 710.47L224.94 713.76L221.64 717.06L218.34 713.76Z"/>
<path stroke="#7E2F8E" stroke-width="1" fill="none" d="M268.40 706.67L271.70 709.97L268.40 713.27L265.10 709.97Z"/>
<polyline points="34.60,721.49 81.36,712.14 128.12,707.67 174.88,699.27 221.64,709.29 268.40,698.18" fill="none" stroke="#77AC30" stroke-width="0.9" stroke-opacity="1" stroke-dasharray="6.5 3.5"/>
<circle cx="34.60" cy="721.49" r="2.8" stroke="#77AC30" stroke-width="1" fill="none"/>
<circle cx="81.36" cy="712.14" r="2.8" stroke="#77AC30" stroke-width="1" fill="none"/>
<circle cx="128.12" cy="707.67" r="2.8" stroke="#77AC30" stroke-width="1" fill="none"/>
<circle cx="174.88" cy="699.27" r="2.8" stroke="#77AC30" stroke-width="1" fill="none"/>
<circle cx="221.64" cy="709.29" r="2.8" stroke="#77AC30" stroke-width="1" fill="none"/>
<circle cx="268.40" cy="698.18" r="2.8" stroke="#77AC30" stroke-width="1" fill="none"/>
<polyline points="34.60,764.31 81.36,762.14 128.12,758.75 174.88,754.82 221.64,753.74 268.40,746.96" fill="none" stroke="#4DBEEE" stroke-width="0.9" stroke-opacity="1" stroke-dasharray="6.5 3.5"/>
<path stroke="#4DBEEE" stroke-width="1" d="M31.70 764.31H37.50M34.60 761.41V767.21"/>
<path stroke="#4DBEEE" stroke-width="1" d="M78.46 762.14H84.26M81.36 759.24V765.04"/>
<path stroke="#4DBEEE" stroke-width="1" d="M125.22 758.75H131.02M128.12 755.85V761.65"/>
<path stroke="#4DBEEE" stroke-width="1" d="M171.98 754.82H177.78M174.88 751.92V757.72"/>
<path stroke="#4DBEEE" stroke-width="1" d="M218.74 753.74H224.54M221.64 750.84V756.64"/>
<path stroke="#4DBEEE" stroke-width="1" d="M265.50 746.96H271.30M268.40 744.06V749.86"/>
<text x="30.30" y="795.20" text-anchor="end" class="t">0</text>
<text x="30.30" y="768.10" text-anchor="end" class="t">0.2</text>
<text x="30.30" y="741.00" text-anchor="end" class="t">0.4</text>
<text x="30.30" y="713.90" text-anchor="end" class="t">0.6</text>
<text x="30.30" y="686.80" text-anchor="end" class="t">0.8</text>
<text x="30.30" y="659.70" text-anchor="end" class="t">1</text>
<text x="30.30" y="632.60" text-anchor="end" class="t">1.2</text>
<text x="34.60" y="803.60" text-anchor="middle" class="t">48</text>
<text x="81.36" y="803.60" text-anchor="middle" class="t">72</text>
<text x="128.12" y="803.60" text-anchor="middle" class="t">96</text>
<text x="174.88" y="803.60" text-anchor="middle" class="t">192</text>
<text x="221.64" y="803.60" text-anchor="middle" class="t">336</text>
<text x="268.40" y="803.60" text-anchor="middle" class="t">720</text>
<text x="151.50" y="815.80" text-anchor="middle" class="l">Prediction length</text>
<text transform="translate(14.40 709.70) rotate(-90)" text-anchor="middle" class="l">MAE score</text>
<rect x="305.20" y="627.70" width="233.70" height="162.80" fill="none" stroke="#6b6b6b" stroke-width="1"/>
<path d="M305.20 790.50v-2.3M305.20 627.70v2.3M351.94 790.50v-2.3M351.94 627.70v2.3M398.68 790.50v-2.3M398.68 627.70v2.3M445.42 790.50v-2.3M445.42 627.70v2.3M492.16 790.50v-2.3M492.16 627.70v2.3M538.90 790.50v-2.3M538.90 627.70v2.3M305.20 790.50h2.3M538.90 790.50h-2.3M305.20 767.24h2.3M538.90 767.24h-2.3M305.20 743.99h2.3M538.90 743.99h-2.3M305.20 720.73h2.3M538.90 720.73h-2.3M305.20 697.47h2.3M538.90 697.47h-2.3M305.20 674.21h2.3M538.90 674.21h-2.3M305.20 650.96h2.3M538.90 650.96h-2.3M305.20 627.70h2.3M538.90 627.70h-2.3" stroke="#3a3a3a" stroke-width="0.9"/>
<polyline points="305.20,740.26 351.94,723.29 398.68,719.68 445.42,726.08 492.16,728.40 538.90,697.36" fill="none" stroke="#0072BD" stroke-width="0.9" stroke-opacity="0.8" stroke-dasharray="1 2"/>
<path fill="#0072BD" d="M301.90 740.26L304.05 739.11L305.20 736.96L306.35 739.11L308.50 740.26L306.35 741.41L305.20 743.56L304.05 741.41Z"/>
<path fill="#0072BD" d="M348.64 723.29L350.79 722.14L351.94 719.99L353.09 722.14L355.24 723.29L353.09 724.44L351.94 726.59L350.79 724.44Z"/>
<path fill="#0072BD" d="M395.38 719.68L397.53 718.53L398.68 716.38L399.83 718.53L401.98 719.68L399.83 720.83L398.68 722.98L397.53 720.83Z"/>
<path fill="#0072BD" d="M442.12 726.08L444.27 724.93L445.42 722.78L446.57 724.93L448.72 726.08L446.57 727.23L445.42 729.38L444.27 727.23Z"/>
<path fill="#0072BD" d="M488.86 728.40L491.01 727.25L492.16 725.10L493.31 727.25L495.46 728.40L493.31 729.55L492.16 731.70L491.01 729.55Z"/>
<path fill="#0072BD" d="M535.60 697.36L537.75 696.21L538.90 694.06L540.05 696.21L542.20 697.36L540.05 698.51L538.90 700.66L537.75 698.51Z"/>
<polyline points="305.20,670.03 351.94,670.96 398.68,672.00 445.42,659.56 492.16,678.40 538.90,672.70" fill="none" stroke="#D95319" stroke-width="1.0" stroke-opacity="1" stroke-dasharray="4.5 2 1 2"/>
<path stroke="#D95319" stroke-width="1" d="M303.20 668.03L307.20 672.03M303.20 672.03L307.20 668.03"/>
<path stroke="#D95319" stroke-width="1" d="M349.94 668.96L353.94 672.96M349.94 672.96L353.94 668.96"/>
<path stroke="#D95319" stroke-width="1" d="M396.68 670.00L400.68 674.00M396.68 674.00L400.68 670.00"/>
<path stroke="#D95319" stroke-width="1" d="M443.42 657.56L447.42 661.56M443.42 661.56L447.42 657.56"/>
<path stroke="#D95319" stroke-width="1" d="M490.16 676.40L494.16 680.40M490.16 680.40L494.16 676.40"/>
<path stroke="#D95319" stroke-width="1" d="M536.90 670.70L540.90 674.70M536.90 674.70L540.90 670.70"/>
<polyline points="305.20,660.96 351.94,656.07 398.68,636.54 445.42,647.00 492.16,654.56 538.90,635.72" fill="none" stroke="#EDB120" stroke-width="0.8" stroke-opacity="0.5" stroke-dasharray="1 1.8"/>
<path stroke="#EDB120" stroke-width="1" d="M302.30 660.96H308.10M305.20 658.06V663.86"/>
<path stroke="#EDB120" stroke-width="1" d="M349.04 656.07H354.84M351.94 653.17V658.97"/>
<path stroke="#EDB120" stroke-width="1" d="M395.78 636.54H401.58M398.68 633.64V639.44"/>
<path stroke="#EDB120" stroke-width="1" d="M442.52 647.00H448.32M445.42 644.10V649.90"/>
<path stroke="#EDB120" stroke-width="1" d="M489.26 654.56H495.06M492.16 651.66V657.46"/>
<path stroke="#EDB120" stroke-width="1" d="M536.00 635.72H541.80M538.90 632.82V638.62"/>
<polyline points="305.20,737.47 351.94,727.01 398.68,726.54 445.42,723.87 492.16,733.64 538.90,721.08" fill="none" stroke="#7E2F8E" stroke-width="0.9" stroke-opacity="1" stroke-dasharray="6.5 3.5"/>
<path stroke="#7E2F8E" stroke-width="1" fill="none" d="M305.20 734.17L308.50 737.47L305.20 740.77L301.90 737.47Z"/>
<path stroke="#7E2F8E" stroke-width="1" fill="none" d="M351.94 723.71L355.24 727.01L351.94 730.31L348.64 727.01Z"/>
<path stroke="#7E2F8E" stroke-width="1" fill="none" d="M398.68 723.24L401.98 726.54L398.68 729.84L395.38 726.54Z"/>
<path stroke="#7E2F8E" stroke-width="1" fill="none" d="M445.42 720.57L448.72 723.87L445.42 727.17L442.12 723.87Z"/>
<path stroke="#7E2F8E" stroke-width="1" fill="none" d="M492.16 730.34L495.46 733.64L492.16 736.94L488.86 733.64Z"/>
<path stroke="#7E2F8E" stroke-width="1" fill="none" d="M538.90 717.78L542.20 721.08L538.90 724.38L535.60 721.08Z"/>
<polyline points="305.20,731.89 351.94,723.29 398.68,721.89 445.42,718.17 492.16,723.40 538.90,710.96" fill="none" stroke="#77AC30" stroke-width="0.9" stroke-opacity="1" stroke-dasharray="6.5 3.5"/>
<circle cx="305.20" cy="731.89" r="2.8" stroke="#77AC30" stroke-width="1" fill="none"/>
<circle cx="351.94" cy="723.29" r="2.8" stroke="#77AC30" stroke-width="1" fill="none"/>
<circle cx="398.68" cy="721.89" r="2.8" stroke="#77AC30" stroke-width="1" fill="none"/>
<circle cx="445.42" cy="718.17" r="2.8" stroke="#77AC30" stroke-width="1" fill="none"/>
<circle cx="492.16" cy="723.40" r="2.8" stroke="#77AC30" stroke-width="1" fill="none"/>
<circle cx="538.90" cy="710.96" r="2.8" stroke="#77AC30" stroke-width="1" fill="none"/>
<polyline points="305.20,781.43 351.94,780.27 398.68,778.76 445.42,777.36 492.16,776.78 538.90,775.03" fill="none" stroke="#4DBEEE" stroke-width="0.9" stroke-opacity="1" stroke-dasharray="6.5 3.5"/>
<path stroke="#4DBEEE" stroke-width="1" d="M302.30 781.43H308.10M305.20 778.53V784.33"/>
<path stroke="#4DBEEE" stroke-width="1" d="M349.04 780.27H354.84M351.94 777.37V783.17"/>
<path stroke="#4DBEEE" stroke-width="1" d="M395.78 778.76H401.58M398.68 775.86V781.66"/>
<path stroke="#4DBEEE" stroke-width="1" d="M442.52 777.36H448.32M445.42 774.46V780.26"/>
<path stroke="#4DBEEE" stroke-width="1" d="M489.26 776.78H495.06M492.16 773.88V779.68"/>
<path stroke="#4DBEEE" stroke-width="1" d="M536.00 775.03H541.80M538.90 772.13V777.93"/>
<text x="300.90" y="794.70" text-anchor="end" class="t">0.2</text>
<text x="300.90" y="771.44" text-anchor="end" class="t">0.4</text>
<text x="300.90" y="748.19" text-anchor="end" class="t">0.6</text>
<text x="300.90" y="724.93" text-anchor="end" class="t">0.8</text>
<text x="300.90" y="701.67" text-anchor="end" class="t">1</text>
<text x="300.90" y="678.41" text-anchor="end" class="t">1.2</text>
<text x="300.90" y="655.16" text-anchor="end" class="t">1.4</text>
<text x="300.90" y="631.90" text-anchor="end" class="t">1.6</text>
<text x="305.20" y="803.10" text-anchor="middle" class="t">48</text>
<text x="351.94" y="803.10" text-anchor="middle" class="t">72</text>
<text x="398.68" y="803.10" text-anchor="middle" class="t">96</text>
<text x="445.42" y="803.10" text-anchor="middle" class="t">192</text>
<text x="492.16" y="803.10" text-anchor="middle" class="t">336</text>
<text x="538.90" y="803.10" text-anchor="middle" class="t">720</text>
<text x="422.05" y="815.30" text-anchor="middle" class="l">Prediction length</text>
<text transform="translate(284.70 709.10) rotate(-90)" text-anchor="middle" class="l">MAE score</text>
<rect x="39.1" y="13.2" width="82.40" height="83.40" fill="#fff" stroke="#6b6b6b" stroke-width="1"/>
<line x1="41" y1="21.10" x2="66.8" y2="21.10" stroke="#0072BD" stroke-width="0.9" stroke-opacity="0.8" stroke-dasharray="1 2"/>
<path fill="#0072BD" d="M51.20 21.10L53.35 19.95L54.50 17.80L55.65 19.95L57.80 21.10L55.65 22.25L54.50 24.40L53.35 22.25Z"/>
<text x="68.3" y="24.70" class="g">Informer</text>
<line x1="41" y1="34.74" x2="66.8" y2="34.74" stroke="#D95319" stroke-width="1.0" stroke-opacity="1" stroke-dasharray="4.5 2 1 2"/>
<path stroke="#D95319" stroke-width="1" d="M52.50 32.74L56.50 36.74M52.50 36.74L56.50 32.74"/>
<text x="68.3" y="38.34" class="g">Autoformer</text>
<line x1="41" y1="48.38" x2="66.8" y2="48.38" stroke="#EDB120" stroke-width="0.8" stroke-opacity="0.5" stroke-dasharray="1 1.8"/>
<path stroke="#EDB120" stroke-width="1" d="M51.60 48.38H57.40M54.50 45.48V51.28"/>
<text x="68.3" y="51.98" class="g">FEDformer</text>
<line x1="41" y1="62.02" x2="66.8" y2="62.02" stroke="#7E2F8E" stroke-width="0.9" stroke-opacity="1" stroke-dasharray="6.5 3.5"/>
<path stroke="#7E2F8E" stroke-width="1" fill="none" d="M54.50 58.72L57.80 62.02L54.50 65.32L51.20 62.02Z"/>
<text x="68.3" y="65.62" class="g">DLiner</text>
<line x1="41" y1="75.66" x2="66.8" y2="75.66" stroke="#77AC30" stroke-width="0.9" stroke-opacity="1" stroke-dasharray="6.5 3.5"/>
<circle cx="54.50" cy="75.66" r="2.8" stroke="#77AC30" stroke-width="1" fill="none"/>
<text x="68.3" y="79.26" class="g">SCINet</text>
<line x1="41" y1="89.30" x2="66.8" y2="89.30" stroke="#4DBEEE" stroke-width="0.9" stroke-opacity="1" stroke-dasharray="6.5 3.5"/>
<path stroke="#4DBEEE" stroke-width="1" d="M51.60 89.30H57.40M54.50 86.40V92.20"/>
<text x="68.3" y="92.90" class="g">WDF-Mixer</text>
<text x="138.6" y="414.4" text-anchor="middle" class="c">(a)Company</text>
<text x="411" y="414.4" text-anchor="middle" class="c">(b)School</text>
<text x="139.6" y="833.6" text-anchor="middle" class="c">(c)Mall</text>
<text x="417.6" y="833.6" text-anchor="middle" class="c">(d)Apartment</text>
</svg></body></html>
